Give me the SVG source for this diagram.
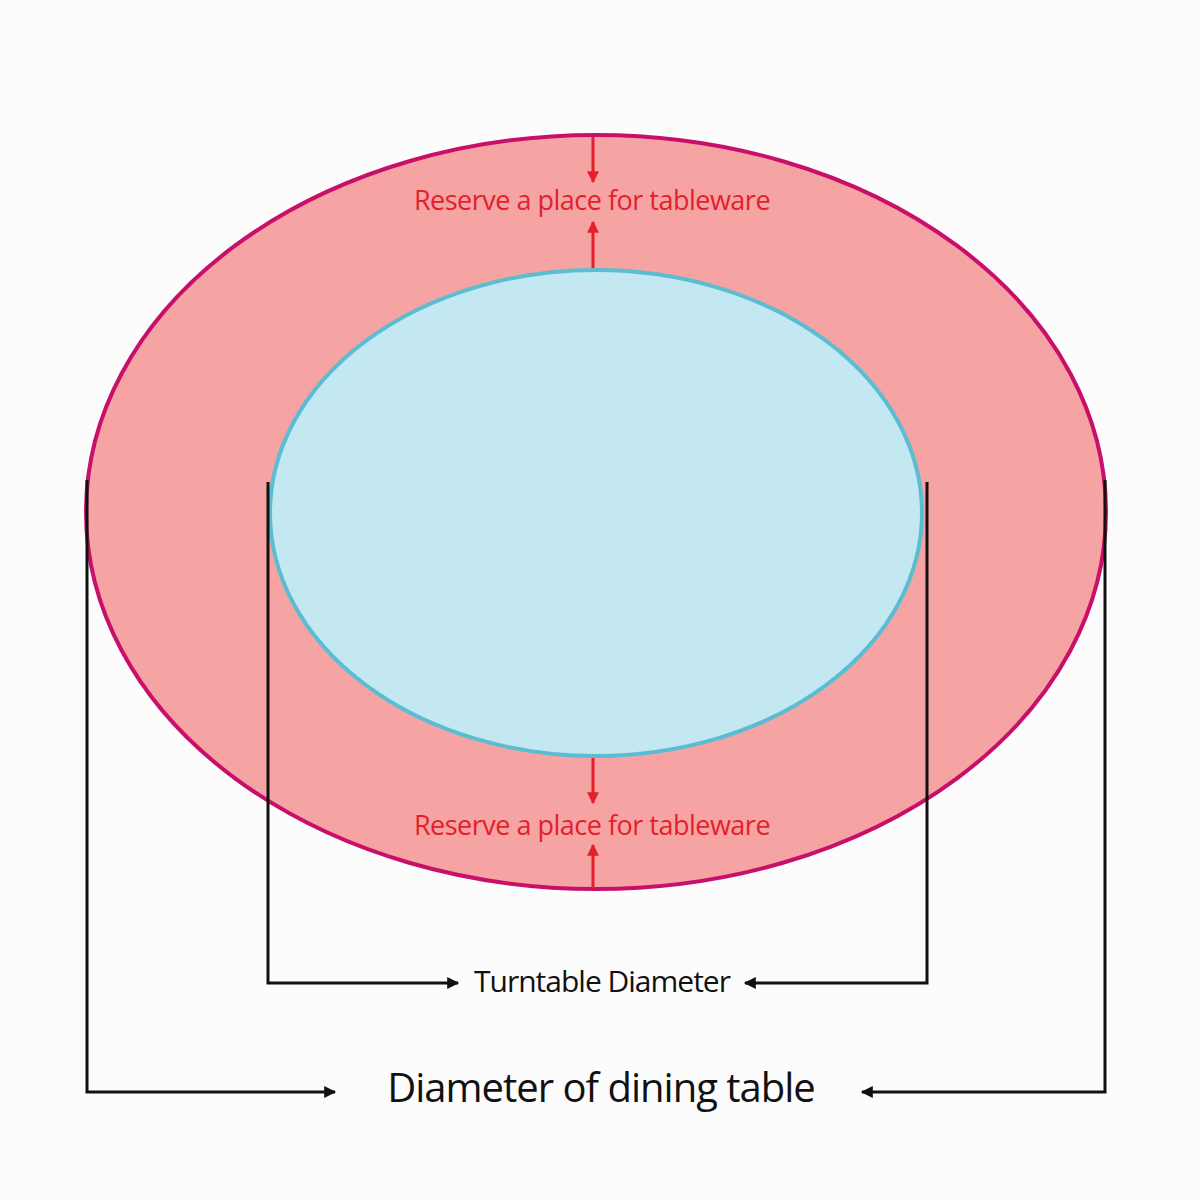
<svg xmlns="http://www.w3.org/2000/svg" width="1200" height="1200" viewBox="0 0 1200 1200">
<style>
.red{font-family:"Open Sans","Noto Sans",sans-serif;font-size:27px;fill:#e3202c;letter-spacing:-0.5px}
.blk{font-family:"Open Sans","Noto Sans",sans-serif;fill:#111;}
.dim{stroke:#111;stroke-width:3;fill:none}
.rline{stroke:#e3202c;stroke-width:3;fill:none}
</style>
<defs>
<marker id="ab" viewBox="0 0 10 10" refX="9" refY="5" markerWidth="6" markerHeight="4" orient="auto" markerUnits="strokeWidth"><path d="M0,0 L10,5 L0,10 z" fill="#111"/></marker>
<marker id="ar" viewBox="0 0 10 10" refX="9" refY="5" markerWidth="4" markerHeight="4" orient="auto" markerUnits="strokeWidth"><path d="M0,0 L10,5 L0,10 z" fill="#e3202c"/></marker>
</defs>
<rect width="1200" height="1200" fill="#fcfcfc"/>
<g id="table">
<ellipse cx="596" cy="512" rx="510" ry="377" fill="#f5a3a3" stroke="#c8106a" stroke-width="4"/>
</g>
<g id="turntable">
<ellipse cx="596" cy="513" rx="326" ry="243" fill="#c3e8f1" stroke="#5bbdd2" stroke-width="4"/>
</g>
<g id="connectors">
<path class="rline" d="M593,137 L593,182" marker-end="url(#ar)"/>
<path class="rline" d="M593,268 L593,222" marker-end="url(#ar)"/>
<path class="rline" d="M593,758 L593,803" marker-end="url(#ar)"/>
<path class="rline" d="M593,889 L593,845" marker-end="url(#ar)"/>
<path class="dim" d="M268,482 L268,983 L458,983" marker-end="url(#ab)"/>
<path class="dim" d="M927,482 L927,983 L745,983" marker-end="url(#ab)"/>
<path class="dim" d="M87,480 L87,1092 L335,1092" marker-end="url(#ab)"/>
<path class="dim" d="M1105,480 L1105,1092 L862,1092" marker-end="url(#ab)"/>
</g>
<g id="labels">
<text class="red" x="592" y="210" text-anchor="middle">Reserve a place for tableware</text>
<text class="red" x="592" y="835" text-anchor="middle">Reserve a place for tableware</text>
<text class="blk" x="602" y="992" text-anchor="middle" font-size="30" letter-spacing="-1">Turntable Diameter</text>
<text class="blk" x="601" y="1102" text-anchor="middle" font-size="40" letter-spacing="-1">Diameter of dining table</text>
</g>
</svg>
